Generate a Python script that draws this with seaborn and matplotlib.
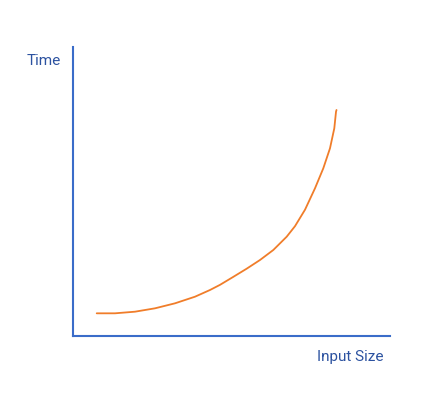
import matplotlib
matplotlib.use("Agg")
import matplotlib.pyplot as plt
import seaborn as sns
import pandas as pd

# Curve (axis units 0-100)
input_size = [7.48, 13.25, 19.56, 25.87, 32.18, 38.49, 43.22, 46.37, 50.47, 54.80,
              58.99, 63.19, 67.41, 70.03, 73.19, 76.34, 78.96, 81.07, 82.43, 82.97, 83.12]
time_vals = [7.85, 7.85, 8.41, 9.58, 11.31, 13.60, 15.92, 17.70, 20.40, 23.30,
             26.30, 29.76, 34.36, 38.00, 43.70, 51.11, 58.03, 64.95, 71.87, 77.61, 78.20]
x_label = "Input Size"
y_label = "Time"

sns.set_style("white")
plt.rcParams['font.family'] = ['Roboto', 'DejaVu Sans']

df = pd.DataFrame({"x": input_size, "y": time_vals})

fig = plt.figure(figsize=(4.4, 3.98), dpi=100)
ax = fig.add_axes([73/440, 62/398, 317/440, 289/398])
sns.lineplot(data=df, x="x", y="y", ax=ax, sort=False, color="#f07d2a", linewidth=1.3,
             solid_joinstyle="round")
ax.set_xlim(0, 100)
ax.set_ylim(0, 100)
ax.set_xticks([])
ax.set_yticks([])
ax.set_xlabel("")
ax.set_ylabel("")
for s in ["top", "right"]:
    ax.spines[s].set_visible(False)
for s in ["left", "bottom"]:
    ax.spines[s].set_color("#3a6cc9")
    ax.spines[s].set_linewidth(1.5)

txt_color = "#2c52a0"
fig.text(27/440, 1 - 61/398, y_label, color=txt_color, fontsize=11, ha="left", va="center")
fig.text(383/440, 1 - 357/398, x_label, color=txt_color, fontsize=11, ha="right", va="center")

fig.savefig("out.png", dpi=100, facecolor="white")
